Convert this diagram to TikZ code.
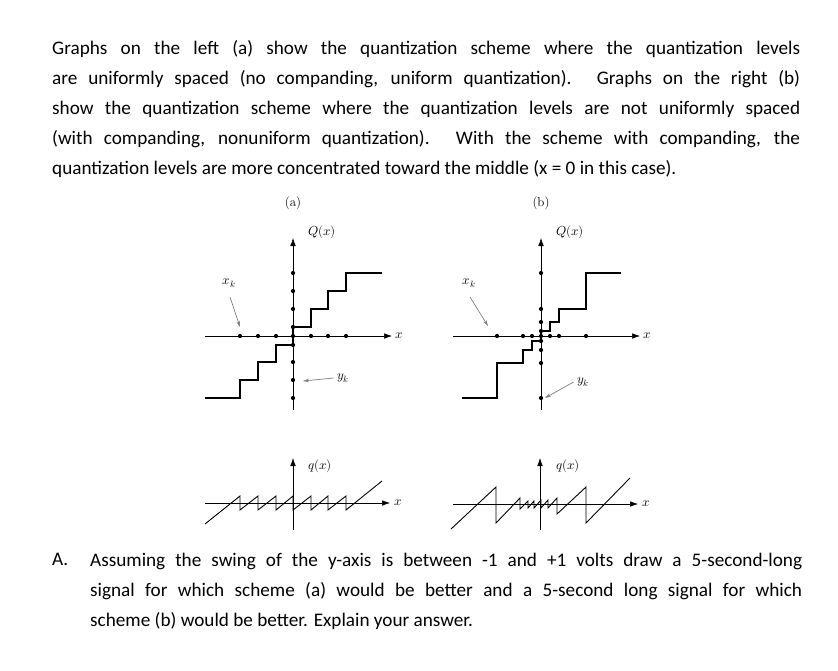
\documentclass[tikz,border=0pt]{standalone}
\usepackage{fontspec}
\setmainfont{Carlito}
\newfontfamily\lmfont{Latin Modern Roman}
\usepackage{unicode-math}
\usetikzlibrary{arrows.meta}
\begin{document}
\begin{tikzpicture}[x=1pt,y=-1pt,
  ax/.style={line width=0.5pt,-{Latex[length=8pt,width=5.5pt]}},
  stair/.style={line width=1.1pt},
  dot/.style={circle,fill,inner sep=1.5pt},
  lab/.style={font=\lmfont\fontsize{13}{13}\selectfont},
  ptr/.style={draw=gray,line width=0.7pt,-{Stealth[length=6pt,width=3.5pt]}},
  para/.style={anchor=north west,inner sep=0pt,align=justify,font=\fontsize{19.2}{30}\selectfont}]
\useasboundingbox (0,0) rectangle (838,670);
\fill[white] (0,0) rectangle (838,670);
\node[para,text width=748pt] (txt) at (52,40) {Graphs on the left (a) show the quantization scheme where the quantization levels\linebreak are uniformly spaced (no companding, uniform quantization). Graphs on the right (b)\linebreak show the quantization scheme where the quantization levels are not uniformly spaced\linebreak (with companding, nonuniform quantization). With the scheme with companding, the\linebreak quantization levels are more concentrated toward the middle (x = 0 in this case).};
\node[para,anchor=north west,align=left] (A) at (52,553) {A.};
\node[para,text width=712pt] (qa) at (90,553) {Assuming the swing of the y-axis is between -1 and +1 volts draw a 5-second-long\linebreak signal for which scheme (a) would be better and a 5-second long signal for which\linebreak scheme (b) would be better. Explain your answer.};
% ---- (a)
\node[lab] (la) at (293,203) {(a)};
\coordinate (ax0) at (205,336); \coordinate (ax1) at (392,336);
\coordinate (ay0) at (293,410); \coordinate (ay1) at (293,238);
\draw[ax] (ax0) -- (ax1); \draw[ax] (ay0) -- (ay1);
\node[lab] (Qa) at (322,232) {$Q(x)$};
\node[lab] (xa) at (399,336) {$x$};
\foreach \x in {240,258,276,293,311,328,346} \node[dot] at (\x,336) {};
\foreach \y in {273,291,309,327,345,362,380,398} \node[dot] at (293,\y) {};
\draw[stair] (205,398) -- (240,398) -- (240,380) -- (258,380) -- (258,362) -- (276,362) -- (276,345) -- (293,345) -- (293,327) -- (311,327) -- (311,309) -- (328,309) -- (328,291) -- (346,291) -- (346,273) -- (382,273);
\node[lab] (xka) at (229,283) {$x_k$};
\coordinate (xkat) at (240,327);
\draw[ptr] (xka.south) ++(1,6) -- (xkat);
\node[lab] (yka) at (343,378) {$y_k$};
\coordinate (ykat) at (303,381);
\draw[ptr] (yka.west) -- (ykat);
% ---- (b)
\node[lab] (lb) at (541,203) {(b)};
\coordinate (bx0) at (453,336); \coordinate (bx1) at (640,336);
\coordinate (by0) at (541,410); \coordinate (by1) at (541,238);
\draw[ax] (bx0) -- (bx1); \draw[ax] (by0) -- (by1);
\node[lab] (Qb) at (570,232) {$Q(x)$};
\node[lab] (xb) at (647,336) {$x$};
\foreach \x in {497,523,532,541,550,559,586} \node[dot] at (\x,336) {};
\foreach \y in {273,309,322,331,341,350,363,398} \node[dot] at (541,\y) {};
\draw[stair] (462,398) -- (497,398) -- (497,363) -- (523,363) -- (523,350) -- (532,350) -- (532,341) -- (541,341) -- (541,331) -- (550,331) -- (550,322) -- (559,322) -- (559,309) -- (586,309) -- (586,273) -- (621,273);
\node[lab] (xkb) at (469,283) {$x_k$};
\coordinate (xkbt) at (488,326);
\draw[ptr] (xkb.south) ++(1,6) -- (xkbt);
\node[lab] (ykb) at (583,382) {$y_k$};
\coordinate (ykbt) at (545,398);
\draw[ptr] (ykb.west) -- (ykbt);
% ---- bottom (a)
\coordinate (cx0) at (205,503); \coordinate (cx1) at (390,503);
\coordinate (cy0) at (293,530); \coordinate (cy1) at (293,458);
\draw[ax] (cx0) -- (cx1); \draw[ax] (cy0) -- (cy1);
\node[lab] (qxa) at (320,466) {$q(x)$};
\node[lab] (xca) at (398,503) {$x$};
\draw[stair,line width=0.9pt] (205,524) -- (240,496)
  \foreach \a/\b in {240/258,258/276,276/293,293/311,311/328,328/346} { -- (\a,510) -- (\b,496) } -- (346,510) -- (382,481);
% ---- bottom (b)
\coordinate (dx0) at (453,504); \coordinate (dx1) at (638,504);
\coordinate (dy0) at (540,530); \coordinate (dy1) at (540,458);
\draw[ax] (dx0) -- (dx1); \draw[ax] (dy0) -- (dy1);
\node[lab] (qxb) at (568,466) {$q(x)$};
\node[lab] (xcb) at (646,504) {$x$};
\draw[stair,line width=0.9pt] (451,529) -- (496,487) -- (496,523) -- (520,498) -- (520,509) -- (528,501) -- (528,508) -- (534,501) -- (534,508) -- (541,500) -- (541,508) -- (548,500) -- (548,508) -- (557,498) -- (557,514) -- (586,487) -- (586,523) -- (630,478);
\end{tikzpicture}
\end{document}
